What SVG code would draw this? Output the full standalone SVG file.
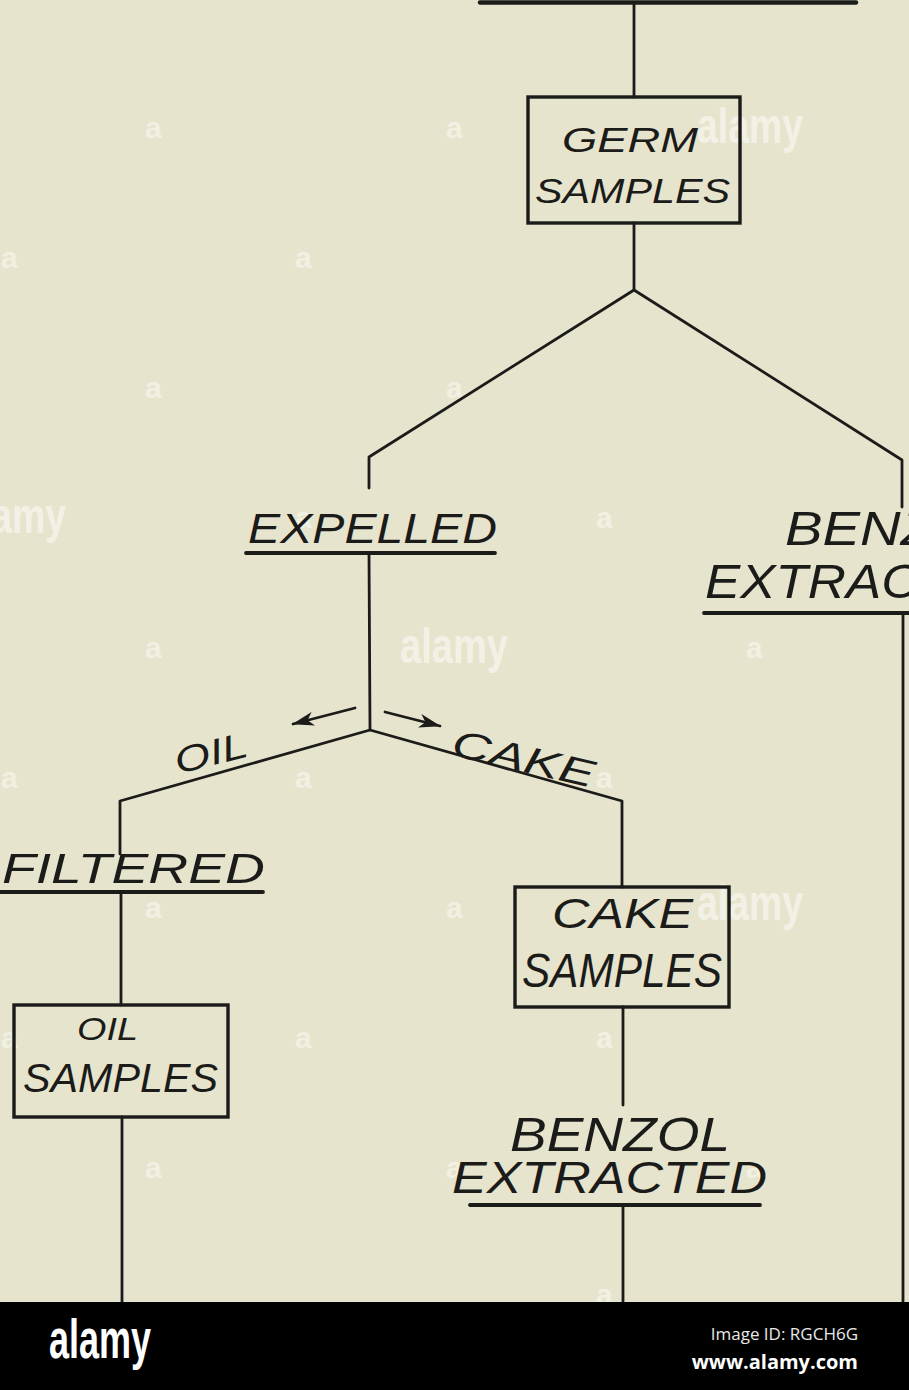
<svg xmlns="http://www.w3.org/2000/svg" width="909" height="1390" viewBox="0 0 909 1390">
<defs>
<style>
.ln{stroke:#1b1b19;stroke-width:2.8;fill:none;stroke-linecap:round;stroke-linejoin:round}
.ul{stroke:#1b1b19;stroke-width:3.8;fill:none;stroke-linecap:round}
.bx{stroke:#1b1b19;stroke-width:3.4;fill:none}
.t{font-family:"Liberation Sans",Arial,sans-serif;font-style:italic;fill:#1b1b19}
.wm{font-family:"Liberation Sans Narrow","Liberation Sans",Arial,sans-serif;font-weight:bold;fill:#ffffff;opacity:0.5}
.wa{font-family:"Liberation Sans",Arial,sans-serif;font-weight:bold;fill:#ffffff;opacity:0.45;font-size:30px}
</style>
<marker id="ah" viewBox="0 0 22 14" refX="21" refY="7" markerWidth="22" markerHeight="14" markerUnits="userSpaceOnUse" orient="auto">
<path d="M0,0 L22,7 L0,14 L6,7 Z" fill="#1b1b19"/>
</marker>
</defs>
<rect x="0" y="0" width="909" height="1390" fill="#e7e4cd"/>

<g id="watermarks">
<text class="wa" x="145" y="138">a</text>
<text class="wa" x="446" y="138">a</text>
<text class="wa" x="295" y="268">a</text>
<text class="wa" x="1" y="268">a</text>
<text class="wa" x="145" y="398">a</text>
<text class="wa" x="446" y="398">a</text>
<text class="wa" x="295" y="528">a</text>
<text class="wa" x="596" y="528">a</text>
<text class="wa" x="145" y="658">a</text>
<text class="wa" x="746" y="658">a</text>
<text class="wa" x="1" y="788">a</text>
<text class="wa" x="295" y="788">a</text>
<text class="wa" x="596" y="788">a</text>
<text class="wa" x="145" y="918">a</text>
<text class="wa" x="446" y="918">a</text>
<text class="wa" x="1" y="1048">a</text>
<text class="wa" x="295" y="1048">a</text>
<text class="wa" x="596" y="1048">a</text>
<text class="wa" x="145" y="1178">a</text>
<text class="wa" x="446" y="1178">a</text>
<text class="wa" x="746" y="1178">a</text>
<text class="wa" x="596" y="1305">a</text>
<text class="wm" x="697" y="143" font-size="50" textLength="106" lengthAdjust="spacingAndGlyphs">alamy</text>
<text class="wm" x="-40" y="533" font-size="50" textLength="106" lengthAdjust="spacingAndGlyphs">alamy</text>
<text class="wm" x="400" y="663" font-size="50" textLength="108" lengthAdjust="spacingAndGlyphs">alamy</text>
<text class="wm" x="697" y="920" font-size="50" textLength="106" lengthAdjust="spacingAndGlyphs">alamy</text>
</g>

<g id="connectors">
<line class="ul" x1="480" y1="2.5" x2="856" y2="2.5" style="stroke-width:4.5"/>
<line class="ln" x1="634" y1="4" x2="634" y2="97"/>
<line class="ln" x1="634" y1="223" x2="634" y2="290"/>
<polyline class="ln" points="369,488 369,457 634,290 902,460 902,507"/>
<line class="ul" x1="246" y1="553" x2="495" y2="553"/>
<line class="ln" x1="369" y1="553" x2="370" y2="730"/>
<line class="ul" x1="704" y1="613" x2="912" y2="613"/>
<line class="ln" x1="903" y1="613" x2="903" y2="1302"/>
<polyline class="ln" points="120,854 120,801 370,730 622,801 622,887"/>
<line class="ln" x1="355" y1="708" x2="293" y2="724" marker-end="url(#ah)"/>
<line class="ln" x1="385" y1="712" x2="440" y2="726" marker-end="url(#ah)"/>
<line class="ul" x1="0" y1="892" x2="263" y2="892"/>
<line class="ln" x1="121" y1="892" x2="121" y2="1005"/>
<line class="ln" x1="122" y1="1117" x2="122" y2="1302"/>
<line class="ln" x1="623" y1="1007" x2="623" y2="1105"/>
<line class="ul" x1="470" y1="1205" x2="760" y2="1205"/>
<line class="ln" x1="623" y1="1205" x2="623" y2="1302"/>
</g>

<g id="germ-samples">
<rect class="bx" x="528" y="97" width="212" height="126"/>
<text class="t" x="562" y="152" font-size="35" textLength="136" lengthAdjust="spacingAndGlyphs">GERM</text>
<text class="t" x="535" y="203" font-size="35" textLength="195" lengthAdjust="spacingAndGlyphs">SAMPLES</text>
</g>

<g id="expelled">
<text class="t" x="248" y="543" font-size="43" textLength="249" lengthAdjust="spacingAndGlyphs">EXPELLED</text>
</g>

<g id="benzol-extracted-right">
<text class="t" x="785" y="545" font-size="48" textLength="225" lengthAdjust="spacingAndGlyphs">BENZOL</text>
<text class="t" x="705" y="598" font-size="48" textLength="320" lengthAdjust="spacingAndGlyphs">EXTRACTED</text>
</g>

<g id="oil-label">
<text class="t" x="178" y="774" font-size="36" textLength="74" lengthAdjust="spacingAndGlyphs" transform="rotate(-14 178 774)">OIL</text>
</g>

<g id="cake-label">
<text class="t" x="450" y="755" font-size="38" textLength="145" lengthAdjust="spacingAndGlyphs" transform="rotate(13 450 755)">CAKE</text>
</g>

<g id="filtered">
<text class="t" x="2" y="883" font-size="42" textLength="263" lengthAdjust="spacingAndGlyphs">FILTERED</text>
</g>

<g id="cake-samples">
<rect class="bx" x="515" y="887" width="214" height="120"/>
<text class="t" x="552" y="928" font-size="42" textLength="141" lengthAdjust="spacingAndGlyphs">CAKE</text>
<text class="t" x="522" y="987" font-size="48" textLength="200" lengthAdjust="spacingAndGlyphs">SAMPLES</text>
</g>

<g id="oil-samples">
<rect class="bx" x="14" y="1005" width="214" height="112"/>
<text class="t" x="77" y="1040" font-size="32" textLength="61" lengthAdjust="spacingAndGlyphs">OIL</text>
<text class="t" x="23" y="1092" font-size="40" textLength="195" lengthAdjust="spacingAndGlyphs">SAMPLES</text>
</g>

<g id="benzol-extracted">
<text class="t" x="510" y="1151" font-size="49" textLength="220" lengthAdjust="spacingAndGlyphs">BENZOL</text>
<text class="t" x="452" y="1193" font-size="44" textLength="315" lengthAdjust="spacingAndGlyphs">EXTRACTED</text>
</g>

<g id="footer">
<rect x="0" y="1302" width="909" height="88" fill="#000000"/>
<text x="49" y="1358" font-family="'Liberation Sans Narrow','Liberation Sans',Arial,sans-serif" font-weight="bold" font-size="56" fill="#ffffff" textLength="102" lengthAdjust="spacingAndGlyphs">alamy</text>
<text x="858" y="1340" text-anchor="end" font-family="'Open Sans','Noto Sans',sans-serif" font-size="17" fill="#e8e8e8">Image ID: RGCH6G</text>
<text x="858" y="1369" text-anchor="end" font-family="'Open Sans','Noto Sans',sans-serif" font-weight="bold" font-size="20" fill="#ffffff">www.alamy.com</text>
</g>
</svg>
